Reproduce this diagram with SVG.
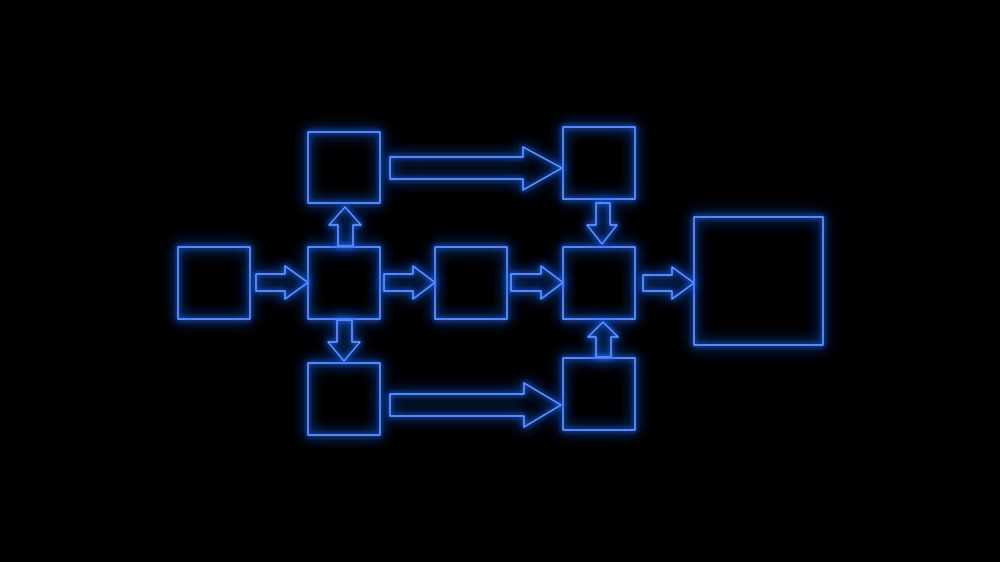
<svg xmlns="http://www.w3.org/2000/svg" width="1000" height="562" viewBox="0 0 1000 562">
  <defs>
    <filter id="glow" x="-40%" y="-40%" width="180%" height="180%">
      <feGaussianBlur in="SourceGraphic" stdDeviation="7" result="b1"/>
      <feGaussianBlur in="SourceGraphic" stdDeviation="2.5" result="b2"/>
      <feMerge>
        <feMergeNode in="b1"/>
        <feMergeNode in="b1"/>
        <feMergeNode in="b2"/>
        <feMergeNode in="SourceGraphic"/>
      </feMerge>
    </filter>
    <style>
      .box, .arr { fill: none; stroke: #2f6dff; stroke-width: 1.8; stroke-linejoin: round; filter: url(#glow); }
      .core { fill: none; stroke: #7aa9ff; stroke-width: 0.9; stroke-linejoin: round; }
    </style>
  </defs>
  <rect x="0" y="0" width="1000" height="562" fill="#000000"/>

  <g id="node-a"><rect class="box" x="178" y="247" width="72" height="72"/><rect class="core" x="178" y="247" width="72" height="72"/></g>
  <g id="node-b"><rect class="box" x="308" y="132" width="72" height="71"/><rect class="core" x="308" y="132" width="72" height="71"/></g>
  <g id="node-c"><rect class="box" x="308" y="247" width="72" height="72"/><rect class="core" x="308" y="247" width="72" height="72"/></g>
  <g id="node-d"><rect class="box" x="435" y="247" width="72" height="72"/><rect class="core" x="435" y="247" width="72" height="72"/></g>
  <g id="node-e"><rect class="box" x="563" y="127" width="72" height="72"/><rect class="core" x="563" y="127" width="72" height="72"/></g>
  <g id="node-f"><rect class="box" x="563" y="247" width="72" height="72"/><rect class="core" x="563" y="247" width="72" height="72"/></g>
  <g id="node-g"><rect class="box" x="308" y="363" width="72" height="72"/><rect class="core" x="308" y="363" width="72" height="72"/></g>
  <g id="node-h"><rect class="box" x="563" y="358" width="72" height="72"/><rect class="core" x="563" y="358" width="72" height="72"/></g>
  <g id="node-i"><rect class="box" x="694" y="217" width="129" height="128"/><rect class="core" x="694" y="217" width="129" height="128"/></g>

  <g id="connectors">
    <path id="a-c" class="arr" d="M256,274 H285 V266 L308,282.5 L285,299 V291 H256 Z"/>
    <path class="core" d="M256,274 H285 V266 L308,282.5 L285,299 V291 H256 Z"/>
    <path id="c-d" class="arr" d="M384,274 H413 V266 L435,282.5 L413,299 V291 H384 Z"/>
    <path class="core" d="M384,274 H413 V266 L435,282.5 L413,299 V291 H384 Z"/>
    <path id="d-f" class="arr" d="M511,274 H541 V266 L563,282.5 L541,299 V291 H511 Z"/>
    <path class="core" d="M511,274 H541 V266 L563,282.5 L541,299 V291 H511 Z"/>
    <path id="f-i" class="arr" d="M643,275 H672 V267 L694,283 L672,299 V291 H643 Z"/>
    <path class="core" d="M643,275 H672 V267 L694,283 L672,299 V291 H643 Z"/>
    <path id="b-e" class="arr" d="M390,157 H523 V147 L562,168 L523,190 V179 H390 Z"/>
    <path class="core" d="M390,157 H523 V147 L562,168 L523,190 V179 H390 Z"/>
    <path id="g-h" class="arr" d="M390,394 H524 V383 L561,405 L524,427 V416 H390 Z"/>
    <path class="core" d="M390,394 H524 V383 L561,405 L524,427 V416 H390 Z"/>
    <path id="c-b" class="arr" d="M338,246 V225 H329 L345,207 L361,225 H353 V246 Z"/>
    <path class="core" d="M338,246 V225 H329 L345,207 L361,225 H353 V246 Z"/>
    <path id="c-g" class="arr" d="M337,320 V342 H328 L344,361 L360,342 H352 V320 Z"/>
    <path class="core" d="M337,320 V342 H328 L344,361 L360,342 H352 V320 Z"/>
    <path id="e-f" class="arr" d="M596,203 V225 H587 L602,244 L617,225 H610 V203 Z"/>
    <path class="core" d="M596,203 V225 H587 L602,244 L617,225 H610 V203 Z"/>
    <path id="h-f" class="arr" d="M596,357 V337 H588 L603,322 L618,337 H611 V357 Z"/>
    <path class="core" d="M596,357 V337 H588 L603,322 L618,337 H611 V357 Z"/>
  </g>
</svg>
